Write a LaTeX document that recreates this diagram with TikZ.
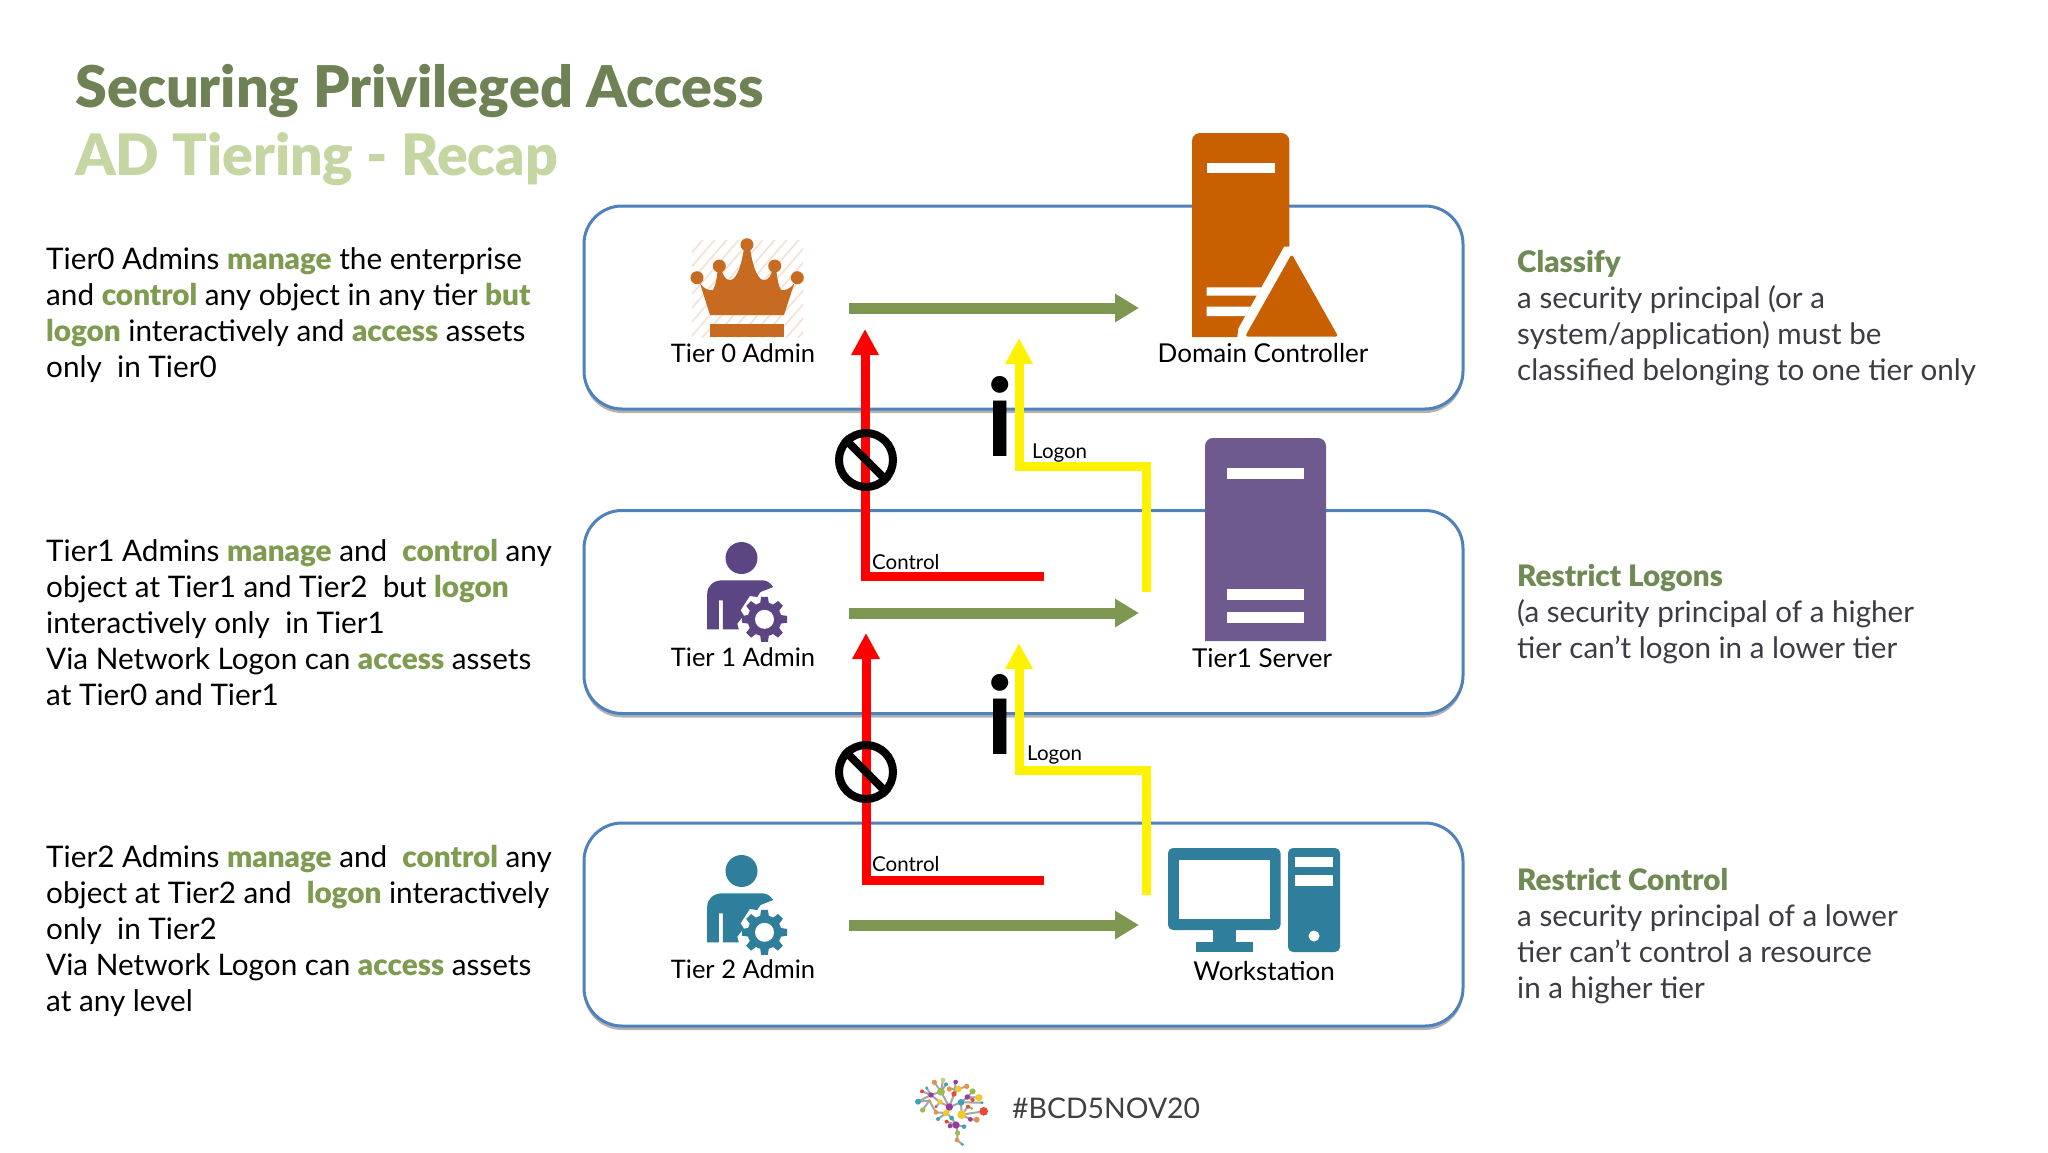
\documentclass[tikz,border=0pt]{standalone}
\usepackage{fontspec}
\setmainfont{Lato}[BoldFont={Lato Black}]
\newfontfamily\infofont{Lato Bold}
\usetikzlibrary{arrows.meta,shadows}
\definecolor{tierblue}{HTML}{4F81BD}
\definecolor{titlegreen}{HTML}{6F8255}
\definecolor{subgreen}{HTML}{C6D6A2}
\definecolor{kwgreen}{HTML}{7F9B50}
\definecolor{headgreen}{HTML}{6F8A54}
\definecolor{flowgreen}{HTML}{7D9650}
\definecolor{bodygray}{HTML}{3C3C44}
\definecolor{dcorange}{HTML}{C85F00}
\definecolor{crownorange}{HTML}{C76B23}
\definecolor{srvpurple}{HTML}{6E5A8E}
\definecolor{admpurple}{HTML}{5B4583}
\definecolor{wsteal}{HTML}{2F7F9C}
\newcommand{\kw}[1]{{\bfseries\color{kwgreen}#1}}
\newcommand{\hd}[1]{{\bfseries\color{headgreen}#1}}
\tikzset{
  tier/.style={draw=tierblue, line width=3pt, fill=white, rounded corners=38pt,
    minimum width=879pt, minimum height=203pt, inner sep=0pt,
    drop shadow={shadow xshift=0pt, shadow yshift=-4pt, opacity=.3, fill=black}},
  slot/.style={inner sep=0pt, outer sep=0pt, minimum height=60pt},
  flow/.style={draw=flowgreen, line width=11pt, -{Triangle[width=27pt,length=24pt]}},
  ctrl/.style={draw=red, line width=9pt, miter limit=10, -{Triangle[width=26pt,length=26pt]}},
  logon/.style={draw=yellow, line width=9pt, miter limit=10, -{Triangle[width=26pt,length=26pt]}},
  nosign/.style={circle, draw=black, line width=8pt, minimum size=54pt, inner sep=0pt},
  iconlbl/.style={anchor=base, inner sep=0pt, font=\fontsize{25.5}{30}\selectfont},
  hostlbl/.style={anchor=base, inner sep=0pt, font=\fontsize{26}{30}\selectfont},
  smalllbl/.style={anchor=base west, inner sep=0pt, font=\fontsize{20.5}{24}\selectfont},
  lefttxt/.style={anchor=north west, inner sep=0pt, align=left, text=black, font=\fontsize{29.7}{36}\selectfont},
  righttxt/.style={anchor=north west, inner sep=0pt, align=left, text=bodygray, font=\fontsize{29.6}{36}\selectfont},
  infoi/.style={anchor=base, inner sep=0pt, font=\fontsize{108}{110}\selectfont\infofont},
  pics/admin/.style={code={
    \fill[#1] (0,0) circle [radius=16];
    \fill[#1] (-34.3,71.3) -- (-22.7,71.3) -- (-22.7,42.3) -- (-18.7,42.3) -- (-18.7,71.3)
      -- (-2.7,71.3) -- (-4.3,65.7) -- (2.3,57.3) -- (-1,52.3) -- (8.3,38) -- (15.7,39)
      -- (19,34) -- (31.7,29) .. controls (28,24) and (25,22.3) .. (20.7,22.3)
      -- (-19.3,22.3) .. controls (-28,22.3) and (-34.3,28) .. (-34.3,35.7) -- cycle;
    \fill[#1] (23,61.3) circle [radius=17];
    \foreach \a in {0,45,...,315}
      \fill[#1, shift={(23,61.3)}, rotate=\a] (15,-4.5) -- (22.5,-3.4) -- (22.5,3.4) -- (15,4.5) -- cycle;
    \fill[white] (23,61.3) circle [radius=9.5];
  }}
}
\begin{document}
\begin{tikzpicture}[x=1pt,y=-1pt]
  \useasboundingbox (0,0) rectangle (2048,1152);
  \fill[white] (0,0) rectangle (2048,1152);

  % titles
  \node[anchor=base west, inner sep=0pt, text=titlegreen, font=\fontsize{57.5}{60}\selectfont\bfseries] (title) at (75,107) {Securing Privileged Access};
  \node[anchor=base west, inner sep=0pt, text=subgreen, font=\fontsize{57.2}{60}\selectfont\bfseries] (subtitle) at (75,175) {AD Tiering - Recap};

  % left column
  \node[lefttxt] (left0) at (46,247) {Tier0 Admins \kw{manage} the enterprise\\and \kw{control} any object in any tier \kw{but}\\\kw{logon} interactively and \kw{access} assets\\only~ in Tier0};
  \node[lefttxt] (left1) at (46,539.5) {Tier1 Admins \kw{manage} and~ \kw{control} any\\object at Tier1 and Tier2~ but \kw{logon}\\interactively only~ in Tier1\\Via Network Logon can \kw{access} assets\\at Tier0 and Tier1};
  \node[lefttxt] (left2) at (46,845.5) {Tier2 Admins \kw{manage} and~ \kw{control} any\\object at Tier2 and~ \kw{logon} interactively\\only~ in Tier2\\Via Network Logon can \kw{access} assets\\at any level};

  % right column
  \node[righttxt] (right0) at (1517,250.5) {\hd{Classify}\\a security principal (or a\\system/application) must be\\classified belonging to one tier only};
  \node[righttxt] (right1) at (1517,564.5) {\hd{Restrict Logons}\\(a security principal of a higher\\tier can’t logon in a lower tier};
  \node[righttxt] (right2) at (1517,868.5) {\hd{Restrict Control}\\a security principal of a lower\\tier can’t control a resource\\in a higher tier};

  % tier boxes
  \node[tier] (tier0) at (1023.5,307.5) {};
  \node[tier] (tier1) at (1023.5,612) {};
  \node[tier] (tier2) at (1023.5,924.5) {};

  % crown
  \begin{scope}
    \clip (692,240) rectangle (803,337);
    \foreach \d in {0,12,...,216}
      \draw[crownorange!20, line width=1.6pt] (600+\d,345) -- (600+\d+95,235);
  \end{scope}
  \fill[crownorange] (700,283.3) .. controls (704,289) and (709,291) .. (713,290)
    .. controls (716,285) and (717,276) .. (718,268) -- (721,268)
    .. controls (723,276) and (726,281) .. (731,280) .. controls (738,278) and (742,262) .. (744,248)
    -- (750,248) .. controls (752,262) and (756,278) .. (763,280) .. controls (768,281) and (771,276) .. (773,268)
    -- (776,268) .. controls (777,276) and (778,285) .. (781,290) .. controls (785,291) and (790,289) .. (794.3,283.3)
    -- (784,315) -- (710,315) -- cycle;
  \fill[crownorange] (710,324) rectangle (784.3,336.7);
  \foreach \cx/\cy in {747/244.7,719.3/266,774.7/266,697/277.7,797.3/277.7}
    \fill[crownorange] (\cx,\cy) circle [radius=6.5];

  \begin{scope}[xshift=-8pt]
    % domain controller
    \fill[dcorange] (1200,337) -- (1200,141) arc (180:270:8) -- (1289.3,133) arc (270:360:8)
      -- (1297.3,246.7) -- (1292,246.7) -- (1246.3,328.3) -- (1245.3,337) -- cycle;
    \fill[white] (1214.5,163) rectangle (1283,173);
    \fill[white] (1214.7,287.3) -- (1269.4,287.3) -- (1264.7,295.7) -- (1214.7,295.7) -- cycle;
    \fill[white] (1214.7,306.7) -- (1258.5,306.7) -- (1253.2,316) -- (1214.7,316) -- cycle;
    \fill[dcorange, rounded corners=3pt] (1299.7,254) -- (1346.3,336.7) -- (1253,336.7) -- cycle;

    % tier1 server
    \fill[srvpurple] (1213,641) -- (1213,446) arc (180:270:8) -- (1326,438) arc (270:360:8) -- (1334,641) -- cycle;
    \fill[white] (1234.5,468) rectangle (1312,479);
    \fill[white] (1234.5,589) rectangle (1312,600);
    \fill[white] (1234.5,612) rectangle (1312,623);

    % workstation
    \fill[wsteal, rounded corners=5pt] (1176,848) rectangle (1288.5,930);
    \fill[white] (1187,860) rectangle (1277.6,919);
    \fill[wsteal] (1220.6,930) rectangle (1243.6,942);
    \fill[wsteal] (1204,942) rectangle (1260.6,952);
    \fill[wsteal, rounded corners=5pt] (1296,848) rectangle (1348,952);
    \fill[white] (1303,857) rectangle (1340.6,867);
    \fill[white] (1303,875) rectangle (1340.6,886);
    \fill[white] (1322,936) circle [radius=5.5];
  \end{scope}

  % admins
  \pic at (741.5,558) {admin=admpurple};
  \pic at (741.5,871) {admin=wsteal};

  % labels
  \node[iconlbl] (lbladm0) at (743,362) {Tier 0 Admin};
  \node[iconlbl] (lbladm1) at (743,666) {Tier 1 Admin};
  \node[iconlbl] (lbladm2) at (743,978) {Tier 2 Admin};
  \node[hostlbl] (lbldc) at (1263,362) {Domain Controller};
  \node[hostlbl] (lblsrv) at (1262,667) {Tier1 Server};
  \node[hostlbl] (lblws) at (1264,980) {Workstation};

  % green flows, each slot edge sits where an arrow ends
  \node[slot, minimum width=206pt] (adm0) at (746,308) {};
  \node[slot, minimum width=206pt] (adm1) at (746,613) {};
  \node[slot, minimum width=206pt] (adm2) at (746,925) {};
  \node[slot, minimum width=200pt] (dc) at (1239,308) {};
  \node[slot, minimum width=200pt] (srv) at (1239,613) {};
  \node[slot, minimum width=200pt] (ws) at (1239,925) {};
  \draw[flow] (adm0) -- (dc);
  \draw[flow] (adm1) -- (srv);
  \draw[flow] (adm2) -- (ws);

  % control
  \coordinate (c1s) at (1044,576);
  \coordinate (c1t) at (865,329);
  \coordinate (c2s) at (1044,880);
  \coordinate (c2t) at (866,633);
  \draw[ctrl] (c1s) -| (c1t);
  \draw[ctrl] (c2s) -| (c2t);
  \node[smalllbl] (ctl1) at (872,569.5) {Control};
  \node[smalllbl] (ctl2) at (872,871.5) {Control};

  % logon
  \coordinate (l1s) at (1146,592);
  \coordinate (l1b) at (1019,466);
  \coordinate (l1t) at (1019,338);
  \coordinate (l2s) at (1146,895);
  \coordinate (l2b) at (1019,770);
  \coordinate (l2t) at (1019,643);
  \draw[logon] (l1s) |- (l1b) -- (l1t);
  \draw[logon] (l2s) |- (l2b) -- (l2t);
  \node[smalllbl] (lgn1) at (1032,458) {Logon};
  \node[smalllbl] (lgn2) at (1027,760) {Logon};

  % info marks and prohibition signs
  \node[infoi] (inf1) at (1000,456) {i};
  \node[infoi] (inf2) at (1000,754) {i};
  \node[nosign] (no1) at (866,460) {};
  \node[nosign] (no2) at (866,772) {};
  \draw[black, line width=8pt] (no1.north west) -- (no1.south east);
  \draw[black, line width=8pt] (no2.north west) -- (no2.south east);

  % logo
  \begin{scope}[shift={(900,1070)}, scale=0.3333]
    \foreach \xa/\ya/\xb/\yb in {123/65/129/30,123/65/103/37,123/65/138/43,123/65/93/75,93/75/80/54,93/75/66/64,93/75/54/95,
      93/75/120/96,120/96/148/111,148/111/123/65,148/111/162/72,162/72/175/57,175/57/148/57,175/57/200/49,183/97/202/81,
      202/81/218/64,202/81/237/83,183/97/246/98,183/97/148/111,183/97/185/134,185/134/204/110,185/134/251/124,139/129/148/111,
      139/129/108/127,108/127/88/92,88/92/54/95,88/92/68/120,139/129/155/144,139/129/114/147,155/144/168/165,185/134/211/148,
      211/148/230/149,168/165/140/155,168/165/150/168,168/165/192/170,168/165/173/189,173/189/171/210,171/210/187/223,
      108/110/120/96,215/115/204/110,218/90/202/81,167/36/162/72}
      \draw[gray!70, line width=2pt] (\xa,\ya) -- (\xb,\yb);
    \foreach \px/\py/\pr/\pc in {129/30/7/C2D36B,103/37/8/E0954A,167/36/7/9A3A9E,138/43/6/3FA3B5,80/54/5/3FA3B5,66/64/6/E64A35,
      123/65/12/9BBB50,148/57/8/E0954A,175/57/10/F1C92D,200/49/8/E0954A,218/64/9/9BBB50,162/72/8/E64A35,93/75/8/9A3A9E,
      237/83/11/F1C92D,202/81/8/9A3A9E,246/98/5/3FA3B5,54/95/9/3FA3B5,88/92/5/E0954A,120/96/8/F1C92D,183/97/10/3FA3B5,
      218/90/6/E64A35,148/111/11/9A3A9E,204/110/6/E64A35,215/115/5/9BBB50,68/120/8/9BBB50,108/110/5/E64A35,108/127/7/E0954A,
      139/129/10/F1C92D,185/134/13/F1C92D,251/124/13/E64A35,114/147/6/3FA3B5,155/144/7/3FA3B5,211/148/7/9A3A9E,230/149/9/E0954A,
      140/155/6/E64A35,168/165/11/9A3A9E,150/168/7/9A3A9E,192/170/7/3FA3B5,173/189/8/9BBB50,171/210/7/E0954A,187/223/5/3FA3B5}
    {
      \definecolor{dotc}{HTML}{\pc}
      \fill[dotc] (\px,\py) circle [radius=\pr];
    }
  \end{scope}
  \node[anchor=base west, inner sep=0pt, text=black!75, font=\fontsize{28.4}{32}\selectfont] (tag) at (1012,1118) {\#BCD5NOV20};
\end{tikzpicture}
\end{document}
